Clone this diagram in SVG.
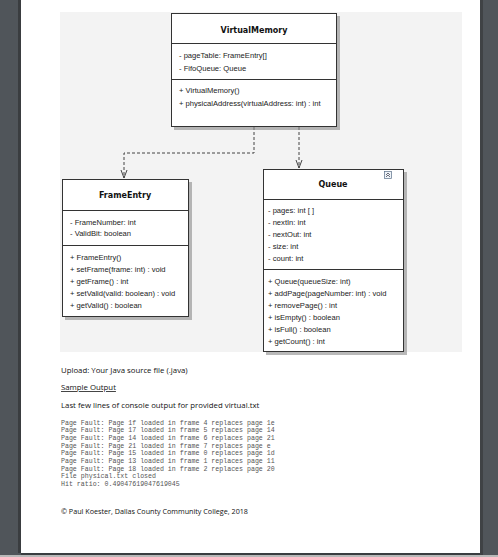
<svg xmlns="http://www.w3.org/2000/svg" width="498" height="557" viewBox="0 0 498 557">
<style>
.box{fill:#fff;stroke:#333;stroke-width:1}
.shadow{fill:#8a8a8a;opacity:0.6}
.div{stroke:#333;stroke-width:1}
.title{font-family:"DejaVu Sans","Liberation Sans",sans-serif;font-weight:bold;font-size:8px;fill:#111;text-anchor:middle}
.m{font-family:"Liberation Sans",Arial,sans-serif;font-size:7.6px;fill:#222}
.doc{font-family:"Open Sans","Liberation Sans",sans-serif;font-size:7.8px;fill:#111}
.mono{font-family:"Liberation Mono",monospace;font-size:6.6px;fill:#555}
.conn{fill:none;stroke:#444;stroke-width:1;stroke-dasharray:3,2}
.arr{fill:none;stroke:#444;stroke-width:1}
</style>
<rect x="0" y="0" width="498" height="557" fill="#50555a"/>
<rect x="18" y="0" width="3" height="553" fill="#3a3d40"/>
<rect x="21" y="553" width="462" height="2" fill="#3a3d40"/>
<rect x="480" y="0" width="3" height="555" fill="#3f4245"/>
<rect x="0" y="555" width="498" height="2" fill="#b8b8b8"/>
<rect x="21" y="0" width="459" height="553" fill="#fff"/>
<rect x="60" y="12" width="402" height="340" fill="#f3f3f3"/>

<g id="connectors">
<polyline class="conn" points="254,127 254,153 124,153 124,178"/>
<polyline class="arr" points="121,170 124,178 127,170"/>
<line class="conn" x1="299" y1="127" x2="299" y2="168"/>
<polyline class="arr" points="296,160 299,168 302,160"/>
</g>

<g id="VirtualMemory">
<rect class="shadow" x="174" y="16" width="166" height="114"/>
<rect class="box" x="171.5" y="13.5" width="165" height="113"/>
<line class="div" x1="171.5" y1="43.5" x2="336.5" y2="43.5"/>
<line class="div" x1="171.5" y1="79.5" x2="336.5" y2="79.5"/>
<text class="title" x="254" y="33">VirtualMemory</text>
<text class="m" x="179" y="58">- pageTable: FrameEntry[]</text>
<text class="m" x="179" y="71">- FifoQueue: Queue</text>
<text class="m" x="179" y="93">+ VirtualMemory()</text>
<text class="m" x="179" y="106">+ physicalAddress(virtualAddress: int) : int</text>
</g>

<g id="FrameEntry">
<rect class="shadow" x="65" y="182" width="127" height="138"/>
<rect class="box" x="62.5" y="179.5" width="126" height="137"/>
<line class="div" x1="62.5" y1="210.5" x2="188.5" y2="210.5"/>
<line class="div" x1="62.5" y1="245.5" x2="188.5" y2="245.5"/>
<text class="title" x="125" y="198">FrameEntry</text>
<text class="m" x="70" y="225">- FrameNumber: int</text>
<text class="m" x="70" y="236">- ValidBit: boolean</text>
<text class="m" x="70" y="260">+ FrameEntry()</text>
<text class="m" x="70" y="272">+ setFrame(frame: int) : void</text>
<text class="m" x="70" y="284">+ getFrame() : int</text>
<text class="m" x="70" y="296">+ setValid(valid: boolean) : void</text>
<text class="m" x="70" y="308">+ getValid() : boolean</text>
</g>

<g id="Queue">
<rect class="shadow" x="266" y="172" width="141" height="183"/>
<rect class="box" x="263.5" y="169.5" width="140" height="182"/>
<line class="div" x1="263.5" y1="199.5" x2="403.5" y2="199.5"/>
<line class="div" x1="263.5" y1="269.5" x2="403.5" y2="269.5"/>
<text class="title" x="333" y="187">Queue</text>
<rect x="384.5" y="171.5" width="7" height="7" fill="#eef3f8" stroke="#5a6f88" stroke-width="0.7"/>
<polyline points="386,175 388,173 390,175" fill="none" stroke="#334" stroke-width="0.7"/>
<polyline points="386,177 388,175 390,177" fill="none" stroke="#334" stroke-width="0.7"/>
<text class="m" x="268" y="213">- pages: int [ ]</text>
<text class="m" x="268" y="225">- nextIn: int</text>
<text class="m" x="268" y="237">- nextOut: int</text>
<text class="m" x="268" y="249">- size: int</text>
<text class="m" x="268" y="261">- count: int</text>
<text class="m" x="268" y="284">+ Queue(queueSize: int)</text>
<text class="m" x="268" y="296">+ addPage(pageNumber: int) : void</text>
<text class="m" x="268" y="308">+ removePage() : int</text>
<text class="m" x="268" y="320">+ isEmpty() : boolean</text>
<text class="m" x="268" y="332">+ isFull() : boolean</text>
<text class="m" x="268" y="344">+ getCount() : int</text>
</g>

<text class="doc" x="61" y="372.5">Upload: Your Java source file (.java)</text>
<text class="doc" x="61" y="390" text-decoration="underline">Sample Output</text>
<text class="doc" x="61" y="408">Last few lines of console output for provided virtual.txt</text>

<text class="mono" x="61" y="424.5">Page Fault: Page 1f loaded in frame 4 replaces page 1e</text>
<text class="mono" x="61" y="432.2">Page Fault: Page 17 loaded in frame 5 replaces page 14</text>
<text class="mono" x="61" y="439.9">Page Fault: Page 14 loaded in frame 6 replaces page 21</text>
<text class="mono" x="61" y="447.6">Page Fault: Page 21 loaded in frame 7 replaces page e</text>
<text class="mono" x="61" y="455.3">Page Fault: Page 15 loaded in frame 0 replaces page 1d</text>
<text class="mono" x="61" y="463">Page Fault: Page 13 loaded in frame 1 replaces page 11</text>
<text class="mono" x="61" y="470.7">Page Fault: Page 18 loaded in frame 2 replaces page 20</text>
<text class="mono" x="61" y="478.4">File physical.txt closed</text>
<text class="mono" x="61" y="486.1">Hit ratio: 0.49047619047619045</text>

<text class="doc" x="61" y="514" style="font-size:7.2px">© Paul Koester, Dallas County Community College, 2018</text>
</svg>
